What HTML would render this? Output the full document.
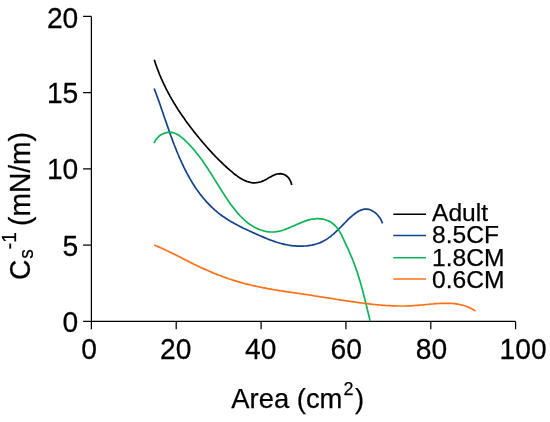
<!DOCTYPE html>
<html><head><meta charset="utf-8"><title>Chart</title>
<style>
html,body{margin:0;padding:0;background:#fff;}
body{width:550px;height:422px;overflow:hidden;}
svg{display:block;}
text{font-family:"Liberation Sans",Arial,sans-serif;fill:#000;stroke:#000;stroke-width:0.25;}
.tk{font-size:28.2px;}
.lg{font-size:24.6px;}
.ax{stroke:#000;stroke-width:1.25;fill:none;}
.cv{fill:none;stroke-width:1.7;stroke-linecap:butt;stroke-linejoin:round;}
</style></head><body>
<svg width="550" height="422" viewBox="0 0 550 422">
<rect width="550" height="422" fill="#fff"/>
<path class="ax" d="M91.4 16.4 V321.4 M91.4 321.4 H515.6 M83.1 321.4 H91.4 M83.1 245.1 H91.4 M83.1 168.9 H91.4 M83.1 92.6 H91.4 M83.1 16.4 H91.4 M91.4 321.4 V329.2 M176.2 321.4 V329.2 M261.1 321.4 V329.2 M345.9 321.4 V329.2 M430.8 321.4 V329.2 M515.6 321.4 V329.2"/>
<text class="tk" transform="translate(78.3 332.2) scale(1 1.06)" text-anchor="end">0</text>
<text class="tk" transform="translate(78.3 255.7) scale(1 1.06)" text-anchor="end">5</text>
<text class="tk" transform="translate(78.3 179.4) scale(1 1.06)" text-anchor="end">10</text>
<text class="tk" transform="translate(78.3 103.2) scale(1 1.06)" text-anchor="end">15</text>
<text class="tk" transform="translate(78.3 28.1) scale(1 1.06)" text-anchor="end">20</text>
<text class="tk" transform="translate(89.0 358.8) scale(1 1.06)" text-anchor="middle">0</text>
<text class="tk" transform="translate(175.8 358.8) scale(1 1.06)" text-anchor="middle">20</text>
<text class="tk" transform="translate(260.7 358.8) scale(1 1.06)" text-anchor="middle">40</text>
<text class="tk" transform="translate(346.2 358.8) scale(1 1.06)" text-anchor="middle">60</text>
<text class="tk" transform="translate(431.4 358.8) scale(1 1.06)" text-anchor="middle">80</text>
<text class="tk" transform="translate(523.1 358.8) scale(1 1.06)" text-anchor="middle">100</text>
<path class="cv" stroke="#000" d="M154.3 59.8 L154.8 61.4 155.3 62.9 155.8 64.4 156.3 65.9 156.9 67.4 157.4 68.9 158.0 70.4 158.6 71.9 159.1 73.4 159.7 74.8 160.4 76.3 161.0 77.8 161.6 79.2 162.3 80.7 162.9 82.1 163.6 83.6 164.3 85.0 165.0 86.4 165.7 87.9 166.4 89.3 167.1 90.7 167.9 92.1 168.6 93.5 169.4 94.9 170.1 96.3 170.9 97.7 171.7 99.1 172.5 100.4 173.3 101.8 174.1 103.2 174.9 104.5 175.8 105.9 176.6 107.2 177.5 108.6 178.3 109.9 179.2 111.2 180.1 112.6 181.0 113.9 181.9 115.2 182.8 116.5 183.7 117.8 184.6 119.1 185.5 120.4 186.4 121.7 187.4 123.0 188.3 124.3 189.3 125.5 190.2 126.8 191.2 128.1 192.2 129.3 193.1 130.6 194.1 131.9 195.1 133.1 196.1 134.3 197.1 135.6 198.1 136.8 199.1 138.0 200.1 139.3 201.2 140.5 202.2 141.7 203.2 142.9 204.3 144.1 205.3 145.3 206.3 146.5 207.4 147.7 208.5 148.9 209.5 150.1 210.6 151.2 211.7 152.4 212.7 153.6 213.8 154.7 214.9 155.9 216.0 157.0 217.1 158.2 218.3 159.3 219.4 160.4 220.5 161.5 221.7 162.6 222.8 163.7 224.0 164.8 225.1 165.9 226.3 167.0 227.5 168.1 228.7 169.1 229.9 170.2 231.1 171.2 232.3 172.2 233.6 173.3 234.8 174.3 236.1 175.2 237.4 176.2 238.7 177.1 240.0 178.0 241.3 178.8 242.7 179.6 244.1 180.3 245.6 180.9 247.1 181.5 248.6 181.9 250.2 182.3 251.7 182.6 253.3 182.8 254.8 182.8 256.4 182.7 257.9 182.5 259.5 182.2 261.0 181.7 262.5 181.1 264.0 180.5 265.5 179.7 267.0 178.9 268.4 178.0 269.9 177.2 271.4 176.4 272.8 175.6 274.3 175.0 275.8 174.4 277.2 174.0 278.7 173.8 280.2 173.7 281.6 173.9 283.0 174.2 284.3 174.6 285.6 175.3 286.8 176.2 287.9 177.2 288.9 178.4 289.8 179.8 290.6 181.4 291.2 183.1 291.7 184.9"/>
<path class="cv" stroke="#12438a" d="M154.2 88.5 L154.8 90.1 155.4 91.7 156.0 93.4 156.6 95.0 157.2 96.6 157.8 98.3 158.4 99.9 159.0 101.6 159.6 103.2 160.2 104.9 160.7 106.6 161.3 108.3 161.9 110.0 162.5 111.7 163.1 113.4 163.6 115.1 164.2 116.8 164.8 118.5 165.4 120.2 166.0 121.9 166.6 123.6 167.2 125.4 167.8 127.1 168.4 128.8 169.0 130.5 169.6 132.3 170.2 134.0 170.8 135.7 171.5 137.4 172.1 139.1 172.7 140.9 173.4 142.6 174.0 144.3 174.7 146.0 175.4 147.7 176.1 149.4 176.7 151.1 177.4 152.8 178.1 154.5 178.9 156.2 179.6 157.9 180.3 159.5 181.1 161.2 181.8 162.8 182.6 164.5 183.4 166.1 184.2 167.8 185.0 169.4 185.8 171.0 186.6 172.6 187.5 174.2 188.3 175.8 189.2 177.3 190.1 178.9 191.0 180.4 191.9 182.0 192.8 183.5 193.8 185.0 194.7 186.5 195.7 188.0 196.7 189.4 197.7 190.9 198.8 192.3 199.8 193.7 200.9 195.1 202.0 196.5 203.1 197.9 204.3 199.2 205.4 200.5 206.6 201.9 207.8 203.1 209.0 204.4 210.2 205.7 211.5 206.9 212.8 208.1 214.1 209.3 215.4 210.5 216.8 211.6 218.1 212.8 219.5 213.9 221.0 215.0 222.4 216.0 223.9 217.0 225.4 218.1 226.9 219.0 228.4 220.0 230.0 221.0 231.6 221.9 233.2 222.8 234.8 223.7 236.4 224.6 238.0 225.4 239.6 226.3 241.3 227.1 242.9 227.9 244.6 228.7 246.3 229.5 247.9 230.3 249.6 231.1 251.2 231.8 252.9 232.6 254.6 233.3 256.2 234.1 257.9 234.8 259.5 235.5 261.2 236.2 262.8 236.9 264.4 237.6 266.1 238.3 267.7 239.0 269.3 239.6 271.0 240.2 272.6 240.8 274.2 241.4 275.9 242.0 277.6 242.5 279.3 243.0 281.0 243.5 282.7 243.9 284.4 244.3 286.2 244.7 288.0 245.0 289.8 245.3 291.6 245.6 293.4 245.8 295.3 245.9 297.1 246.1 299.0 246.1 300.8 246.1 302.7 246.1 304.6 246.0 306.4 245.9 308.2 245.7 310.0 245.4 311.8 245.1 313.6 244.7 315.3 244.3 317.0 243.8 318.7 243.2 320.3 242.6 321.9 241.9 323.4 241.1 324.9 240.3 326.4 239.4 327.9 238.4 329.3 237.4 330.7 236.3 332.0 235.2 333.4 234.1 334.7 232.9 336.0 231.7 337.3 230.4 338.6 229.2 339.9 227.9 341.3 226.5 342.6 225.2 343.9 223.8 345.2 222.5 346.6 221.1 347.9 219.7 349.3 218.4 350.7 217.1 352.1 215.8 353.6 214.6 355.0 213.5 356.5 212.5 358.0 211.5 359.4 210.7 360.9 210.1 362.4 209.6 364.0 209.2 365.5 209.0 367.1 209.1 368.6 209.3 370.2 209.8 371.7 210.5 373.3 211.4 374.8 212.4 376.2 213.7 377.6 215.0 378.8 216.5 380.0 218.1 381.0 219.8 381.8 221.6 382.5 223.4"/>
<path class="cv" stroke="#0bb454" d="M154.1 143.2 L154.8 141.6 155.6 140.1 156.6 138.7 157.7 137.5 158.9 136.3 160.3 135.3 161.7 134.5 163.2 133.7 164.8 133.1 166.3 132.7 167.9 132.4 169.5 132.3 171.1 132.4 172.6 132.6 174.1 133.0 175.5 133.5 176.9 134.2 178.3 134.9 179.6 135.8 180.9 136.8 182.2 137.8 183.5 138.9 184.7 140.0 185.9 141.2 187.0 142.3 188.2 143.5 189.3 144.6 190.4 145.8 191.5 147.0 192.6 148.2 193.7 149.5 194.7 150.7 195.7 151.9 196.7 153.2 197.7 154.4 198.7 155.7 199.7 157.0 200.6 158.3 201.6 159.5 202.5 160.8 203.4 162.1 204.3 163.5 205.2 164.8 206.1 166.1 207.0 167.4 207.9 168.8 208.7 170.1 209.6 171.5 210.5 172.8 211.3 174.2 212.2 175.5 213.0 176.9 213.9 178.2 214.7 179.6 215.6 181.0 216.4 182.4 217.3 183.7 218.2 185.1 219.0 186.5 219.9 187.9 220.7 189.3 221.6 190.6 222.5 192.0 223.4 193.4 224.3 194.8 225.2 196.2 226.1 197.5 227.0 198.9 227.9 200.3 228.9 201.7 229.8 203.0 230.8 204.4 231.8 205.7 232.8 207.0 233.8 208.3 234.8 209.6 235.8 210.9 236.9 212.2 237.9 213.4 239.0 214.6 240.1 215.8 241.3 217.0 242.4 218.1 243.6 219.2 244.8 220.3 246.0 221.3 247.2 222.3 248.4 223.3 249.7 224.2 251.0 225.1 252.4 225.9 253.7 226.7 255.1 227.5 256.5 228.2 257.9 228.9 259.4 229.5 260.9 230.0 262.4 230.5 264.0 231.0 265.5 231.3 267.1 231.6 268.7 231.8 270.2 232.0 271.8 232.0 273.4 232.0 275.0 231.9 276.5 231.7 278.1 231.4 279.7 231.1 281.2 230.7 282.8 230.2 284.3 229.7 285.8 229.1 287.4 228.5 288.9 227.9 290.5 227.3 292.0 226.6 293.5 225.9 295.1 225.3 296.6 224.6 298.1 223.9 299.7 223.2 301.2 222.6 302.8 222.0 304.3 221.4 305.8 220.9 307.4 220.4 308.9 219.9 310.5 219.5 312.0 219.2 313.6 219.0 315.1 218.8 316.7 218.7 318.3 218.7 319.8 218.8 321.4 218.9 322.9 219.2 324.4 219.5 325.9 220.0 327.4 220.5 328.8 221.1 330.1 221.8 331.5 222.6 332.7 223.5 333.9 224.5 335.1 225.6 336.2 226.8 337.2 228.0 338.2 229.4 339.1 230.8 339.9 232.2 340.8 233.7 341.6 235.2 342.3 236.7 343.1 238.3 343.8 239.8 344.5 241.3 345.2 242.9 345.9 244.4 346.6 245.9 347.3 247.3 348.0 248.8 348.6 250.3 349.3 251.7 349.9 253.2 350.5 254.7 351.1 256.1 351.8 257.6 352.4 259.0 352.9 260.5 353.5 262.0 354.1 263.5 354.6 264.9 355.2 266.4 355.7 267.9 356.2 269.4 356.8 270.9 357.3 272.5 357.8 274.0 358.3 275.5 358.7 277.1 359.2 278.6 359.7 280.2 360.2 281.7 360.6 283.3 361.1 284.9 361.5 286.4 361.9 288.0 362.4 289.6 362.8 291.2 363.2 292.7 363.6 294.3 364.0 295.9 364.4 297.5 364.8 299.1 365.2 300.6 365.6 302.2 366.0 303.8 366.4 305.4 366.8 307.0 367.1 308.5 367.5 310.1 367.9 311.7 368.3 313.2 368.6 314.8 369.0 316.3 369.4 317.9 369.7 319.4 370.1 321.0"/>
<path class="cv" stroke="#ff7018" d="M154.2 245.1 L155.9 245.8 157.5 246.4 159.1 247.1 160.7 247.8 162.3 248.5 163.9 249.2 165.4 249.9 167.0 250.7 168.6 251.4 170.1 252.2 171.7 252.9 173.3 253.7 174.8 254.5 176.4 255.3 177.9 256.1 179.5 256.8 181.0 257.6 182.6 258.4 184.1 259.2 185.7 260.0 187.2 260.8 188.8 261.6 190.3 262.4 191.9 263.1 193.4 263.9 195.0 264.7 196.6 265.4 198.1 266.2 199.7 266.9 201.3 267.7 202.9 268.4 204.5 269.1 206.1 269.8 207.7 270.5 209.3 271.2 210.9 271.9 212.5 272.6 214.1 273.3 215.7 273.9 217.3 274.6 219.0 275.2 220.6 275.8 222.2 276.4 223.9 277.0 225.5 277.6 227.1 278.2 228.8 278.8 230.4 279.3 232.1 279.9 233.7 280.4 235.4 280.9 237.1 281.4 238.7 281.9 240.4 282.4 242.1 282.9 243.8 283.3 245.4 283.8 247.1 284.2 248.8 284.6 250.5 285.0 252.2 285.4 253.9 285.8 255.6 286.2 257.3 286.5 259.0 286.9 260.7 287.2 262.4 287.6 264.1 287.9 265.8 288.2 267.5 288.6 269.2 288.9 271.0 289.2 272.7 289.5 274.4 289.8 276.1 290.0 277.8 290.3 279.6 290.6 281.3 290.9 283.0 291.1 284.7 291.4 286.5 291.7 288.2 291.9 289.9 292.2 291.6 292.4 293.4 292.7 295.1 292.9 296.8 293.2 298.5 293.4 300.3 293.7 302.0 294.0 303.7 294.2 305.4 294.5 307.2 294.7 308.9 295.0 310.6 295.2 312.3 295.5 314.1 295.8 315.8 296.0 317.5 296.3 319.2 296.6 320.9 296.9 322.7 297.1 324.4 297.4 326.1 297.7 327.8 297.9 329.5 298.2 331.3 298.5 333.0 298.7 334.7 299.0 336.4 299.3 338.2 299.5 339.9 299.8 341.6 300.1 343.3 300.3 345.0 300.6 346.8 300.8 348.5 301.1 350.2 301.4 351.9 301.6 353.7 301.8 355.4 302.1 357.1 302.3 358.8 302.6 360.6 302.8 362.3 303.0 364.0 303.3 365.8 303.5 367.5 303.7 369.2 303.9 370.9 304.1 372.7 304.3 374.4 304.5 376.1 304.7 377.9 304.8 379.6 305.0 381.4 305.1 383.1 305.3 384.8 305.4 386.6 305.5 388.3 305.6 390.0 305.7 391.8 305.8 393.5 305.9 395.2 305.9 397.0 306.0 398.7 306.0 400.4 306.0 402.2 306.0 403.9 306.0 405.7 306.0 407.4 305.9 409.1 305.8 410.9 305.8 412.6 305.7 414.3 305.5 416.1 305.4 417.8 305.3 419.6 305.1 421.3 305.0 423.1 304.8 424.8 304.7 426.5 304.5 428.3 304.4 430.0 304.2 431.8 304.0 433.5 303.9 435.3 303.7 437.1 303.6 438.8 303.5 440.5 303.4 442.3 303.3 444.0 303.3 445.8 303.3 447.5 303.3 449.2 303.3 450.9 303.4 452.7 303.5 454.4 303.7 456.1 303.9 457.8 304.2 459.4 304.5 461.1 304.8 462.8 305.3 464.4 305.8 466.1 306.3 467.7 306.9 469.3 307.6 470.9 308.4 472.5 309.2 474.0 310.1 475.6 311.1"/>
<path class="cv" style="stroke-width:1.5" stroke="#000" d="M393.3 214.3 H426"/>
<text class="lg" x="432" y="220.8">Adult</text>
<path class="cv" style="stroke-width:1.5" stroke="#12438a" d="M393.3 235.6 H426"/>
<text class="lg" x="432" y="242.8">8.5CF</text>
<path class="cv" style="stroke-width:1.5" stroke="#0bb454" d="M393.3 257.7 H426"/>
<text class="lg" x="432" y="265.6">1.8CM</text>
<path class="cv" style="stroke-width:1.5" stroke="#ff7018" d="M393.3 278.9 H426"/>
<text class="lg" x="432" y="287.6">0.6CM</text>
<text class="tk" x="231.3" y="407.5" style="font-size:27.4px">Area (cm<tspan font-size="18" dx="1" dy="-13">2</tspan><tspan dx="1.5" dy="13">)</tspan></text>
<text class="tk" transform="translate(29.6 280) rotate(-90) scale(1 1.07)">C<tspan font-size="19" dx="1" dy="3.6">s</tspan><tspan font-size="19" dy="-16">-1</tspan><tspan dx="-1.5" dy="12.4"> (mN/m)</tspan></text>
</svg></body></html>
